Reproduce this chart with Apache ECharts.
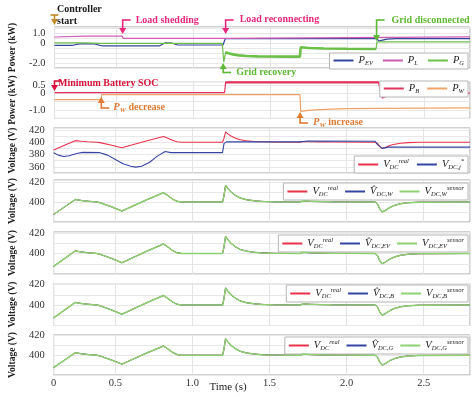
<!DOCTYPE html>
<html><head><meta charset="utf-8">
<script src="https://cdn.jsdelivr.net/npm/echarts@6/dist/echarts.min.js"></script>
<style>html,body{margin:0;padding:0;background:#fff}#c{width:474px;height:397px}</style>
</head><body><div id="c"></div>
<script>
// ---------- DATA ----------
const xTicks = [0, 0.5, 1.0, 1.5, 2.0, 2.5];
// Panel 1: powers (kW)
const tPEV = [0.10, 0.22, 0.26, 0.36, 0.41, 0.78, 0.82, 0.86, 0.90, 1.195, 1.21, 2.19, 2.21, 2.26, 2.32, 2.80];
const vPEV = [-0.2, -0.2, -0.06, -0.06, -0.27, -0.27, 0.05, 0.03, -0.17, -0.17, 0.48, 0.48, 0.24, 0.42, 0.48, 0.48];
const tPL = [0.10, 0.30, 0.541, 0.545, 1.208, 1.214, 2.80];
const vPL = [0.64, 0.72, 0.72, 0.5, 0.5, 0.66, 0.66];
const tPG = [0.10, 0.30, 0.40, 1.19, 1.20, 1.212, 1.23, 1.26, 1.30, 1.35, 1.42, 1.50, 1.60, 1.695, 1.70, 1.75, 1.85, 2.0, 2.19, 2.195, 2.80];
const vPG = [0.05, 0.05, 0.0, 0.0, -1.9, -0.9, -1.0, -1.12, -1.22, -1.28, -1.32, -1.34, -1.35, -1.35, -0.4, -0.47, -0.52, -0.55, -0.57, 0.14, 0.14];
// Panel 2: battery / PV power (kW)
const tPB = [0.10, 1.205, 1.212, 2.205, 2.23, 2.27, 2.32, 2.40, 2.50, 2.80];
const vPB = [0.05, 0.05, 0.66, 0.66, -0.28, -0.14, -0.05, 0.0, 0.02, 0.02];
const tPW = [0.10, 0.402, 0.406, 1.695, 1.70, 1.75, 1.82, 1.90, 2.0, 2.2, 2.5, 2.80];
const vPW = [-0.38, -0.38, -0.08, -0.08, -1.08, -1.02, -0.97, -0.94, -0.92, -0.9, -0.88, -0.87];
// DC bus voltage (V)
const tVdc = [0.10, 0.17, 0.24, 0.28, 0.32, 0.38, 0.40, 0.47, 0.543, 0.60, 0.70, 0.812, 0.84, 0.87, 0.90, 0.93, 1.195, 1.203, 1.215, 1.23, 1.25, 1.28, 1.31, 1.35, 1.40, 1.45, 1.52, 1.698, 1.705, 1.72, 1.76, 1.82, 1.90, 2.185, 2.20, 2.215, 2.23, 2.25, 2.28, 2.31, 2.35, 2.40, 2.47, 2.80];
const vVdc = [387.5, 395, 402.5, 401.5, 400.8, 400, 399.3, 395.5, 391, 395, 402, 409.3, 406.5, 403, 400.7, 400, 400, 405, 416.7, 413.5, 410, 406.5, 404, 402.3, 401.2, 400.6, 400.2, 400, 401.5, 401.2, 400.7, 400.4, 400.2, 400, 398, 393, 390, 391.5, 394.5, 396.6, 398.3, 399.3, 399.8, 400];
// Reference voltage V*_DC,j
const tVref = [0.10, 0.13, 0.165, 0.20, 0.25, 0.29, 0.40, 0.45, 0.50, 0.55, 0.60, 0.632, 0.67, 0.72, 0.77, 0.823, 0.86, 1.195, 1.205, 1.22, 1.698, 1.705, 1.75, 2.185, 2.20, 2.23, 2.27, 2.80];
const vVref = [382.8, 379, 376.8, 378, 381.5, 383.5, 383, 379, 372, 365, 361, 359.5, 361, 367, 377, 385, 383, 383, 398, 400.5, 400.5, 403, 402, 401.5, 396, 390, 392, 392];
// units for estimator panels (panels 4..7)
const units = ['W', 'EV', 'B', 'G'];

// ---------- helpers ----------
const zip = (t, v) => t.map((x, i) => [x, v[i]]);
const slice = (t, v, a, b) => zip(t, v).filter(p => p[0] >= a && p[0] <= b);
const SERIF = '"Liberation Serif", "DejaVu Serif", serif';
const C = { ev: '#34469c', pl: '#cf5db2', pg: '#6cc04a', pb: '#e2335c', pw: '#f2a468', vr: '#e8334a', vh: '#3545a2', vs: '#8fd070' };

const gridsPos = [
  { top: 27, height: 41, min: -2.5, max: 1.65, interval: 0.5, labels: { '1': '1.0', '0': '0', '-2': '-2.0' }, name: 'Power (kW)' },
  { top: 81.7, height: 36.7, min: -1.5, max: 0.7, interval: 0.5, labels: { '0.5': '0.5', '0': '0', '-1': '-1.0' }, name: 'Power (kW)' },
  { top: 128, height: 45, min: 350, max: 423, interval: 10, labels: { '420': '420', '400': '400', '380': '380', '360': '360' }, name: 'Voltage (V)' },
  { top: 180, height: 42, min: 380, max: 422, interval: 10, labels: { '420': '420', '400': '400' }, name: 'Voltage (V)' },
  { top: 232, height: 42, min: 380, max: 421, interval: 10, labels: { '420': '420', '400': '400' }, name: 'Voltage (V)' },
  { top: 283.5, height: 42, min: 380, max: 421, interval: 10, labels: { '420': '420', '400': '400' }, name: 'Voltage (V)' },
  { top: 335, height: 40, min: 380, max: 420.5, interval: 10, labels: { '420': '420', '400': '400' }, name: 'Voltage (V)' }
];

const grid = [], xAxis = [], yAxis = [];
gridsPos.forEach((g, i) => {
  grid.push({ left: 47, right: 4, top: g.top, height: g.height, show: true, borderColor: '#a3a3a3', borderWidth: 1, backgroundColor: '#fff' });
  const last = i === gridsPos.length - 1;
  xAxis.push({
    type: 'value', gridIndex: i, min: 0.1, max: 2.8, splitNumber: 5,
    axisLine: { show: false }, axisTick: { show: false },
    splitLine: { show: true, lineStyle: { color: '#e4e4e4', width: 1 } },
    axisLabel: {
      show: last, margin: 3, fontFamily: SERIF, fontSize: 10.5, color: '#333',
      formatter: v => Math.abs(v - 0.1) < 1e-6 ? '0' : (v > 2.75 ? '' : v.toFixed(1))
    }
  });
  yAxis.push({
    type: 'value', gridIndex: i, min: g.min, max: g.max, interval: g.interval,
    name: g.name, nameLocation: 'middle', nameRotate: 90, nameGap: 32,
    nameTextStyle: { fontFamily: SERIF, fontWeight: 'bold', fontSize: 9.5, color: '#222' },
    axisLine: { show: false }, axisTick: { show: false },
    splitLine: { show: true, lineStyle: { color: '#e8e8e8', width: 1 } },
    axisLabel: {
      margin: 9, fontFamily: SERIF, fontSize: 10.5, color: '#333', showMaxLabel: true, showMinLabel: true,
      formatter: v => { const k = String(Math.round(v * 100) / 100); return g.labels[k] !== undefined ? g.labels[k] : ''; }
    }
  });
});

const line = (name, gi, data, color, w, z) => ({
  name, type: 'line', xAxisIndex: gi, yAxisIndex: gi, data, showSymbol: false, symbol: 'none',
  lineStyle: { color, width: w }, itemStyle: { color }, z: z || 2, animation: false
});

const series = [
  line('P_EV', 0, zip(tPEV, vPEV), C.ev, 1.2, 3),
  line('P_L', 0, zip(tPL, vPL), C.pl, 1.2, 3),
  line('P_G', 0, zip(tPG, vPG), C.pg, 1.2, 4),
  line('P_G_thick', 0, slice(tPG, vPG, 1.205, 2.19), C.pg, 2.6, 4),
  line('P_B', 1, zip(tPB, vPB), C.pb, 1.2, 3),
  line('P_B_thick', 1, slice(tPB, vPB, 1.212, 2.205), C.pb, 2.2, 3),
  line('P_W', 1, zip(tPW, vPW), C.pw, 1.2, 4),
  line('Vreal_2', 2, zip(tVdc, vVdc), C.vr, 1.1, 3),
  line('Vref_2', 2, zip(tVref, vVref), C.vh, 1.1, 4)
];
const richLeg = {
  i: { fontFamily: SERIF, fontStyle: 'italic', fontSize: 10.5, color: '#222' },
  sb: { fontFamily: SERIF, fontStyle: 'italic', fontSize: 6.5, color: '#222', padding: [6, 0, 0, 0] },
  sp: { fontFamily: SERIF, fontStyle: 'italic', fontSize: 6.5, color: '#222', padding: [0, 0, 6, 0] }
};
const legLabel = {
  'P_EV': '{i|P}{sb|EV}', 'P_L': '{i|P}{sb|L}', 'P_G': '{i|P}{sb|G}',
  'P_B': '{i|P}{sb|B}', 'P_W': '{i|P}{sb|W}',
  'Vreal_2': '{i|V}{sb|DC}{sp|real}', 'Vref_2': '{i|V}{sb|DC,j}{sp|*}'
};
const estLegends = [];
units.forEach((u, k) => {
  const gi = 3 + k;
  const nr = 'Vreal_' + gi, nh = 'Vhat_' + gi, ns = 'Vsens_' + gi;
  series.push(line(nr, gi, zip(tVdc, vVdc), C.vr, 1.0, 2));
  series.push(line(nh, gi, zip(tVdc, vVdc), C.vh, 1.0, 3));
  series.push(line(ns, gi, zip(tVdc, vVdc), C.vs, 1.5, 4));
  legLabel[nr] = '{i|V}{sb|DC}{sp|real}';
  legLabel[nh] = '{i|V\u0302}{sb|DC,' + u + '}';
  legLabel[ns] = '{i|V}{sb|DC,' + u + '}{sp|sensor}';
  estLegends.push([nr, nh, ns]);
});
const legend = (data, top, gap) => ({
  data, top, right: 6, orient: 'horizontal', icon: 'rect', itemWidth: 20, itemHeight: 2, itemGap: gap,
  backgroundColor: '#fff', borderColor: '#b5b5b5', borderWidth: 1, padding: [2, 4, 2, 4],
  selectedMode: false, formatter: n => legLabel[n], textStyle: { rich: richLeg, padding: [0, 0, 0, 0] }
});
const legTops = [183, 235, 285, 337];
const legends = [
  legend(['P_EV', 'P_L', 'P_G'], 53, 10),
  legend(['P_B', 'P_W'], 81, 8),
  legend(['Vreal_2', 'Vref_2'], 156, 8)
].concat(estLegends.map((d, k) => legend(d, legTops[k], 7)));

const chart = echarts.init(document.getElementById('c'), null, { renderer: 'canvas' });
chart.setOption({ animation: false, backgroundColor: '#fff', grid, xAxis, yAxis, series, legend: legends });

// ---------- annotations ----------
const ev = { start: 0.1, shed: 0.543, reconnect: 1.212, recover: 1.196, disc: 2.193, wDec: 0.404, wInc: 1.696 };
const px = t => chart.convertToPixel({ xAxisIndex: 0 }, t);
const FONT = 'bold 10px ' + SERIF;
const g = [];
function downArrow(x, yTop, yTip, color, hook) {
  g.push({ type: 'line', shape: { x1: x, y1: yTop, x2: x, y2: yTip - 4 }, style: { stroke: color, lineWidth: 1.6 }, z: 50 });
  g.push({ type: 'polygon', shape: { points: [[x - 3.5, yTip - 6], [x + 3.5, yTip - 6], [x, yTip]] }, style: { fill: color }, z: 50 });
  if (hook) g.push({ type: 'line', shape: { x1: x - 0.8, y1: yTop, x2: x + hook, y2: yTop }, style: { stroke: color, lineWidth: 1.6 }, z: 50 });
}
function upArrow(x, yBase, yTip, color, hook) {
  g.push({ type: 'line', shape: { x1: x, y1: yBase, x2: x, y2: yTip + 4 }, style: { stroke: color, lineWidth: 1.6 }, z: 50 });
  g.push({ type: 'polygon', shape: { points: [[x - 3.5, yTip + 6], [x + 3.5, yTip + 6], [x, yTip]] }, style: { fill: color }, z: 50 });
  if (hook) g.push({ type: 'line', shape: { x1: x - 0.8, y1: yBase, x2: x + hook, y2: yBase }, style: { stroke: color, lineWidth: 1.6 }, z: 50 });
}
function label(text, x, y, color, rich) {
  g.push({ type: 'text', x, y, z: 51, style: { text, fill: color, font: FONT, verticalAlign: 'middle', align: 'left', rich } });
}
const pink = '#e8287c', green = '#5db832', red = '#d8143c', orange = '#e07b34', gold = '#c08a2a';
{ const x = px(ev.start); downArrow(x, 15, 25, gold, 0); g.push({ type: 'line', shape: { x1: x - 4, y1: 15, x2: x + 4, y2: 15 }, style: { stroke: gold, lineWidth: 1.6 }, z: 50 });
  label('Controller', 57, 9, '#1a1a1a'); label('start', 57, 21, '#1a1a1a'); }
{ const x = px(ev.shed); downArrow(x, 20, 34, pink, 8); label('Load shedding', x + 13, 20, pink); }
{ const x = px(ev.reconnect); downArrow(x, 20, 34, pink, 8); label('Load reconnecting', x + 14, 19.5, pink); }
{ const x = px(ev.disc); downArrow(x, 20, 41, green, 8); label('Grid disconnected', x + 15, 20, green); }
{ const x = px(ev.recover); upArrow(x, 72.5, 63, green, 8); label('Grid recovery', x + 13, 72, green); }
{ const x = px(ev.start); downArrow(x, 81, 91, red, 7); label('Minimum Battery SOC', 58, 83, red); }
const richPW = {
  p: { fontFamily: SERIF, fontStyle: 'italic', fontWeight: 'bold', fontSize: 10.5, color: orange },
  s: { fontFamily: SERIF, fontStyle: 'italic', fontWeight: 'bold', fontSize: 7, color: orange, padding: [5, 0, 0, 0] },
  b: { fontFamily: SERIF, fontWeight: 'bold', fontSize: 10, color: orange }
};
{ const x = px(ev.wDec); upArrow(x, 108, 97, orange, 8); label('{p|P}{s|W}{b| decrease}', x + 12, 107.5, orange, richPW); }
{ const x = px(ev.wInc); upArrow(x, 123, 112, orange, 8); label('{p|P}{s|W}{b| increase}', x + 13, 122.5, orange, richPW); }
g.push({ type: 'text', x: 228, y: 387, z: 51, style: { text: 'Time (s)', fill: '#222', font: '11px ' + SERIF, align: 'center', verticalAlign: 'middle' } });
chart.setOption({ graphic: { elements: g } });
</script>
</body></html>
